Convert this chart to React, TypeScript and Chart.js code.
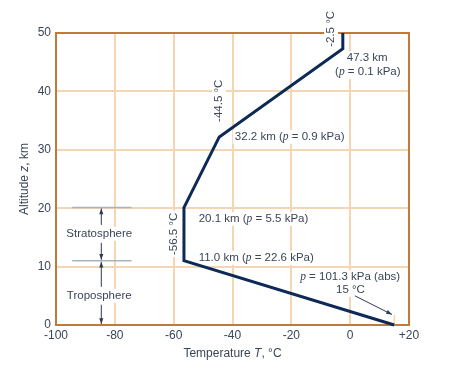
import React, { useEffect, useRef } from 'react';
import Chart from 'chart.js/auto';

// Standard atmosphere profile
const temperatures = [15, -56.5, -56.5, -44.5, -2.5, -2.5];
const altitudes = [0, 11.0, 20.1, 32.2, 47.3, 50];
const xTickValues = [-100, -80, -60, -40, -20, 0, 20];
const yTickValues = [0, 10, 20, 30, 40, 50];
const layerBoundaries = [20.1, 11.0];
const layerNames = ['Stratosphere', 'Troposphere'];
const tempLabels = ['-44.5 °C', '-56.5 °C', '-2.5 °C'];
const levelLabels = [
  '47.3 km',
  '(*p* = 0.1 kPa)',
  '32.2 km (*p* = 0.9 kPa)',
  '20.1 km (*p* = 5.5 kPa)',
  '11.0 km (*p* = 22.6 kPa)',
  '*p* = 101.3 kPa (abs)',
  '15 °C',
];
const xTitle = 'Temperature *T*, °C';
const yTitle = 'Altitude *z*, km';

const FONT = '"Liberation Sans", Arial, sans-serif';
const SERIF = '"Liberation Serif", "Times New Roman", serif';
const TEXT = '#3a4557';
const FRAME = '#c27a38';
const GRID = '#f4d6b4';
const LINE = '#0c2a55';
const GRAY = '#a8b3ba';

function drawRich(ctx: CanvasRenderingContext2D, text: string, x: number, y: number, align: string, size: number, bg: boolean, italicSerif = true) {
  const parts = text.split('*');
  const fonts = parts.map((_, i) => (i % 2 ? `italic ${size}px ${italicSerif ? SERIF : FONT}` : `${size}px ${FONT}`));
  const widths = parts.map((p, i) => {
    ctx.font = fonts[i];
    return ctx.measureText(p).width;
  });
  const total = widths.reduce((a, b) => a + b, 0);
  let x0 = align === 'center' ? x - total / 2 : align === 'right' ? x - total : x;
  if (bg) {
    ctx.fillStyle = '#ffffff';
    ctx.fillRect(x0 - 2, y - size * 0.6, total + 4, size * 1.2);
  }
  ctx.fillStyle = TEXT;
  ctx.textAlign = 'left';
  ctx.textBaseline = 'middle';
  let cx = x0;
  parts.forEach((p, i) => {
    ctx.font = fonts[i];
    ctx.fillText(p, cx, y);
    cx += widths[i];
  });
}

function arrowHead(ctx: CanvasRenderingContext2D, x1: number, y1: number, x2: number, y2: number, size: number) {
  const a = Math.atan2(y2 - y1, x2 - x1);
  ctx.beginPath();
  ctx.moveTo(x2, y2);
  ctx.lineTo(x2 - size * Math.cos(a - 0.35), y2 - size * Math.sin(a - 0.35));
  ctx.lineTo(x2 - size * Math.cos(a + 0.35), y2 - size * Math.sin(a + 0.35));
  ctx.closePath();
  ctx.fill();
}

function arrow(ctx: CanvasRenderingContext2D, x1: number, y1: number, x2: number, y2: number, color: string) {
  ctx.strokeStyle = color;
  ctx.fillStyle = color;
  ctx.lineWidth = 1;
  ctx.beginPath();
  ctx.moveTo(x1, y1);
  ctx.lineTo(x2, y2);
  ctx.stroke();
  arrowHead(ctx, x1, y1, x2, y2, 6);
}

const annotationPlugin = {
  id: 'atmosAnnotations',
  beforeDatasetsDraw(chart: any) {
    const ctx: CanvasRenderingContext2D = chart.ctx;
    const xs = chart.scales.x;
    const ys = chart.scales.y;
    const X = (v: number) => xs.getPixelForValue(v);
    const Y = (v: number) => ys.getPixelForValue(v);
    const area = chart.chartArea;
    ctx.save();

    // frame
    ctx.strokeStyle = FRAME;
    ctx.lineWidth = 2;
    ctx.strokeRect(area.left, area.top, area.right - area.left, area.bottom - area.top);

    // layer boundary lines
    ctx.strokeStyle = GRAY;
    ctx.lineWidth = 1.5;
    layerBoundaries.forEach((b) => {
      ctx.beginPath();
      ctx.moveTo(X(-94.5), Y(b));
      ctx.lineTo(X(-74.3), Y(b));
      ctx.stroke();
    });

    // layer names and arrows
    const ax = X(-84.6);
    const sy = Y(15.6);
    const ty = Y(5.0);
    drawRich(ctx, layerNames[0], X(-85.3), sy, 'center', 11.5, true);
    drawRich(ctx, layerNames[1], X(-85.3), ty, 'center', 11.5, true);
    arrow(ctx, ax, sy - 9, ax, Y(20.1) + 1, '#2c3a4f');
    arrow(ctx, ax, sy + 9, ax, Y(11.0) - 1, '#2c3a4f');
    arrow(ctx, ax, ty - 9, ax, Y(11.0) + 1, '#2c3a4f');
    arrow(ctx, ax, ty + 9, ax, Y(0) - 1, '#2c3a4f');

    // rotated temperature labels
    const rot = [
      [tempLabels[0], -44.6, 38.4],
      [tempLabels[1], -60.0, 15.6],
      [tempLabels[2], -6.5, 50.7],
    ] as [string, number, number][];
    rot.forEach(([t, vx, vy]) => {
      ctx.save();
      ctx.translate(X(vx), Y(vy));
      ctx.rotate(-Math.PI / 2);
      drawRich(ctx, t, 0, 0, 'center', 11.5, true);
      ctx.restore();
    });

    // level labels
    drawRich(ctx, levelLabels[0], X(5.8), Y(45.7), 'center', 11.5, true);
    drawRich(ctx, levelLabels[1], X(6.0), Y(43.3), 'center', 11.5, true);
    drawRich(ctx, levelLabels[2], X(-39.2), Y(32.2), 'left', 11.5, true);
    drawRich(ctx, levelLabels[3], X(-51.5), Y(18.15), 'left', 11.5, true);
    drawRich(ctx, levelLabels[4], X(-51.5), Y(11.5), 'left', 11.5, true);
    drawRich(ctx, levelLabels[5], X(0.0), Y(8.2), 'center', 11.5, true);
    drawRich(ctx, levelLabels[6], X(0.1), Y(6.0), 'center', 11.5, true);

    // surface arrow
    ctx.strokeStyle = GRID;
    ctx.lineWidth = 1.5;
    ctx.beginPath();
    ctx.moveTo(X(15), Y(0));
    ctx.lineTo(X(15), Y(1.7));
    ctx.stroke();
    arrow(ctx, X(1.6), Y(5.0), X(14.2), Y(1.8), '#2c3a4f');

    // axis titles
    drawRich(ctx, xTitle, (area.left + area.right) / 2, 354, 'center', 12, false, false);
    ctx.save();
    ctx.translate(25, (area.top + area.bottom) / 2);
    ctx.rotate(-Math.PI / 2);
    drawRich(ctx, yTitle, 0, 0, 'center', 12, false, false);
    ctx.restore();

    ctx.restore();
  },
};

export default function App() {
  const ref = useRef<HTMLCanvasElement>(null);
  useEffect(() => {
    if (!ref.current) return;
    const chart = new Chart(ref.current, {
      type: 'scatter',
      data: {
        datasets: [
          {
            data: temperatures.map((t, i) => ({ x: t, y: altitudes[i] })),
            showLine: true,
            borderColor: LINE,
            backgroundColor: LINE,
            borderWidth: 3,
            pointRadius: 0,
            borderJoinStyle: 'miter',
            clip: 4,
          } as any,
        ],
      },
      options: {
        animation: false,
        responsive: true,
        maintainAspectRatio: false,
        layout: { padding: { top: 33, right: 54, bottom: 0, left: 0 } },
        plugins: { legend: { display: false }, tooltip: { enabled: false } },
        scales: {
          x: {
            type: 'linear',
            min: -100,
            max: 20,
            afterFit: (s: any) => {
              s.height = 61;
            },
            afterBuildTicks: (s: any) => {
              s.ticks = xTickValues.map((v) => ({ value: v }));
            },
            ticks: {
              color: TEXT,
              font: { family: FONT, size: 12 },
              padding: 3,
              maxRotation: 0,
              autoSkip: false,
              callback: (v: any) => (v === 20 ? '+20' : String(v)),
            },
            grid: { color: GRID, lineWidth: 2, drawTicks: false },
            border: { display: false },
          },
          y: {
            type: 'linear',
            min: 0,
            max: 50,
            afterFit: (s: any) => {
              s.width = 56;
            },
            afterBuildTicks: (s: any) => {
              s.ticks = yTickValues.map((v) => ({ value: v }));
            },
            ticks: {
              color: TEXT,
              font: { family: FONT, size: 12 },
              padding: 5,
              autoSkip: false,
            },
            grid: { color: GRID, lineWidth: 2, drawTicks: false },
            border: { display: false },
          },
        },
      },
      plugins: [annotationPlugin],
    });
    return () => chart.destroy();
  }, []);
  return (
    <div style={{ position: 'absolute', left: 0, top: 0, width: 463, height: 386, background: '#fff' }}>
      <canvas ref={ref} />
    </div>
  );
}
